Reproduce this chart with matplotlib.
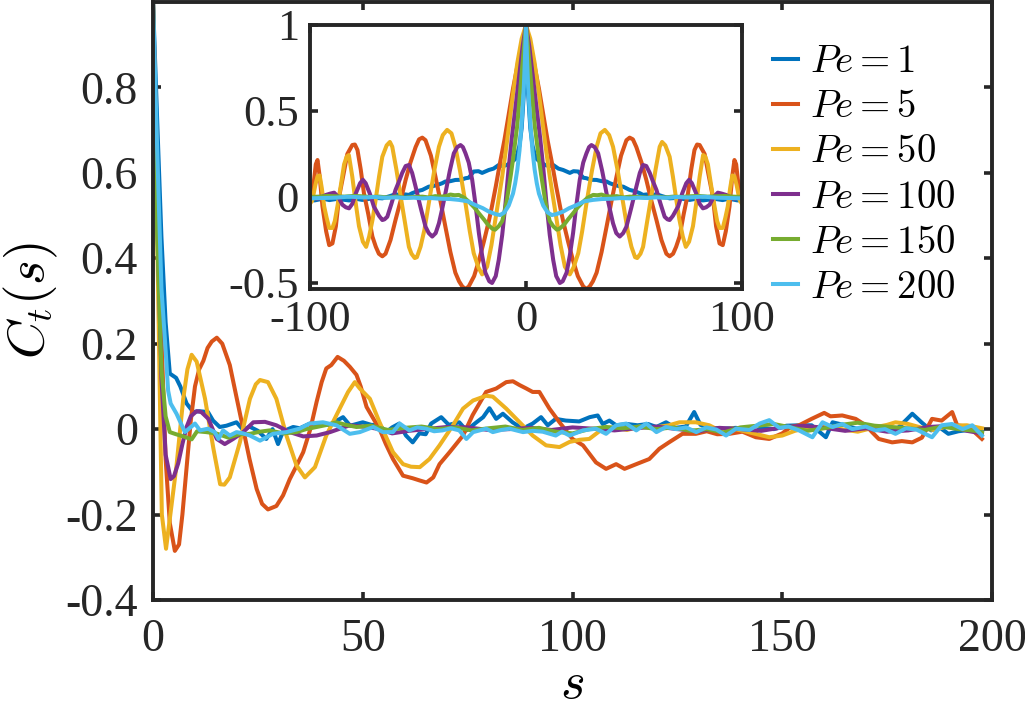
import numpy as np
import matplotlib.pyplot as plt

plt.rcParams['font.family'] = ['Liberation Serif', 'DejaVu Serif']
plt.rcParams['mathtext.fontset'] = 'cm'
plt.rcParams['axes.unicode_minus'] = False

# ---- main panel: C_t(s) for s in [0, 200], pairs (s, C) ----
main_pe1 = np.array([
    (0, 1.0), (1, 0.72), (2, 0.45), (3, 0.25), (4, 0.13), (5.5, 0.12), (6.5, 0.1), (8, 0.06),
    (9.6, 0.04), (11, 0.042), (13.1, 0.04), (14.3, 0.02), (15.9, 0.005), (17.5, 0.008),
    (19.9, 0.016), (21.5, -0.002), (23, 0.006), (25, -0.004), (27, -0.023), (28.5, 0.0),
    (29.8, -0.035), (31, -0.005), (33.4, 0.005), (35, 0.002), (37.4, 0.013), (39.5, 0.012),
    (42, 0.01), (45.3, 0.028), (47, 0.008), (50, 0.016), (52, 0.01), (54, 0.009), (55.6, -0.007),
    (57, 0.004), (58.7, 0.013), (60.3, -0.015), (61.9, -0.031), (63.5, -0.01), (65, -0.012),
    (66.3, 0.013), (68.7, 0.028), (70.5, 0.01), (73, 0.016), (74.7, -0.003), (77.1, 0.016),
    (78.7, 0.028), (80.2, 0.049), (81.8, 0.024), (83.4, 0.036), (85.7, 0.016), (88.1, 0.001),
    (90.5, 0.013), (92.5, 0.028), (94.1, 0.009), (96, 0.024), (98.4, 0.02), (101.6, 0.018),
    (104.1, 0.028), (106, 0.032), (107.2, 0.012), (108.8, 0.02), (110.4, 0.009), (113, 0.012),
    (115.5, 0.009), (118, 0.012), (120, 0.005), (122.3, 0.016), (124.5, 0.003), (127, 0.006),
    (129, 0.04), (130.5, 0.01), (133, 0.003), (136, 0.001), (139, 0.003), (142.9, -0.011),
    (145, 0.003), (148, 0.0), (151, 0.008), (154, 0.009), (157, 0.009), (160.4, -0.019),
    (162, 0.016), (165, 0.009), (168, 0.0), (171, 0.003), (174, 0.0), (177, -0.003),
    (179.8, 0.024), (181, 0.036), (183.3, 0.015), (185.5, -0.003), (187.5, 0.004),
    (189.6, -0.011), (192, -0.005), (194.5, -0.002), (197.6, -0.006)])

main_pe5 = np.array([
    (0, 1.0), (1, 0.6), (2, 0.22), (3, -0.07), (4, -0.22), (5.2, -0.285), (6.2, -0.27), (7, -0.2),
    (8, -0.09), (9, 0.02), (10, 0.1), (11, 0.14), (12, 0.16), (13, 0.19), (14, 0.205),
    (15.2, 0.214), (16.5, 0.2), (18.3, 0.15), (20, 0.07), (21.5, 0.0), (23, -0.07), (24.7, -0.14),
    (26, -0.175), (27.4, -0.188), (29.4, -0.18), (31, -0.155), (32.6, -0.117), (34, -0.09),
    (35.8, -0.054), (37.5, 0.0), (39, 0.064), (40.2, 0.11), (41.3, 0.142), (42.5, 0.15),
    (44, 0.169), (45.5, 0.16), (46.9, 0.146), (48.5, 0.127), (49.5, 0.1), (50.9, 0.052),
    (52.5, 0.025), (54, 0.0), (55.5, -0.035), (57.2, -0.07), (59.6, -0.109), (61.9, -0.115),
    (63.5, -0.12), (65.2, -0.125), (66.8, -0.113), (68.3, -0.082), (70.7, -0.054),
    (73.9, -0.015), (76.2, 0.033), (77.8, 0.06), (79.4, 0.087), (81.8, 0.095), (84.2, 0.11),
    (85.8, 0.112), (87.4, 0.103), (89, 0.095), (90.5, 0.087), (92.1, 0.087), (94.5, 0.048),
    (96.9, 0.016), (100, -0.023), (102.5, -0.038), (105.6, -0.078), (108, -0.093),
    (110.4, -0.082), (112.4, -0.093), (115.2, -0.082), (118.3, -0.07), (120.7, -0.046),
    (123, -0.031), (126.2, -0.011), (129.4, -0.011), (132, -0.005), (134.5, -0.012),
    (137.4, -0.011), (140.5, -0.006), (143.7, -0.019), (146.9, -0.023), (150, -0.01),
    (152, 0.005), (154, 0.009), (157, 0.024), (160, 0.038), (161.5, 0.03), (163, 0.031),
    (164.3, 0.032), (167.5, 0.024), (169.9, 0.009), (171.5, -0.008), (173, -0.023),
    (176.2, -0.031), (178.5, -0.028), (181, -0.031), (183.3, -0.02), (185.7, 0.024),
    (188, 0.02), (190.5, 0.04), (191.7, 0.009), (194.5, 0.005), (197.6, -0.023)])

main_pe50 = np.array([
    (0, 1.0), (1, 0.45), (2.1, -0.2), (3.1, -0.28), (4, -0.21), (5.6, -0.085), (7.2, 0.071),
    (8.2, 0.14), (9.2, 0.174), (10.4, 0.158), (12.4, 0.071), (14.4, -0.046), (16, -0.129),
    (17, -0.13), (18.3, -0.113), (20.7, -0.031), (23.1, 0.071), (24.5, 0.105), (25.5, 0.115),
    (27.4, 0.11), (29.4, 0.071), (31.8, -0.015), (34.2, -0.085), (36.2, -0.113), (38.6, -0.089),
    (41.3, -0.015), (44.5, 0.048), (46.5, 0.087), (48.1, 0.11), (49.3, 0.095), (51.7, 0.071),
    (54, 0.016), (57.2, -0.054), (59.6, -0.082), (61.5, -0.088), (63.6, -0.089), (65.9, -0.07),
    (68.3, -0.038), (71.5, 0.009), (73.9, 0.048), (76.3, 0.067), (79.4, 0.078), (81, 0.076),
    (84.2, 0.048), (87.4, 0.016), (90.5, -0.015), (93.7, -0.038), (96.9, -0.042),
    (99.3, -0.03), (101.7, -0.025), (104, -0.023), (107.2, 0.001), (110, 0.004),
    (113, -0.002), (116, 0.006), (119, 0.003), (123, 0.009), (125.5, 0.016), (129.4, 0.016),
    (132.6, 0.009), (135, -0.003), (138, 0.002), (141, -0.005), (144, -0.012),
    (146.9, -0.019), (150, -0.015), (153, -0.004), (156, 0.003), (160, 0.006), (164, 0.0),
    (168, -0.006), (172, 0.004), (175, 0.01), (177, 0.016), (180, 0.012), (183, 0.004),
    (186, -0.002), (190, 0.008), (194, 0.009), (197.6, 0.002)])

main_pe100 = np.array([
    (0, 1.0), (1, 0.5), (2, 0.12), (3, -0.06), (4.2, -0.117), (5, -0.11), (6, -0.08),
    (7, -0.035), (8, 0.005), (9, 0.03), (10.4, 0.042), (11.5, 0.04), (13.2, 0.024),
    (15.2, -0.023), (17.1, -0.035), (19.1, -0.023), (21.5, -0.007), (23.9, 0.016),
    (26.7, 0.017), (29.4, 0.009), (32.6, -0.007), (35.8, -0.017), (39, -0.015), (42.2, -0.007),
    (46.9, 0.009), (50.9, 0.005), (54, 0.0), (57, -0.01), (61, -0.004), (65, 0.0), (70, 0.005),
    (75, 0.004), (80, -0.002), (85, 0.0), (90, 0.003), (95, -0.002), (100, 0.004),
    (105, 0.001), (110, -0.003), (115, 0.002), (120, 0.006), (125, 0.0), (130, -0.005),
    (135, 0.003), (140, 0.0), (145, -0.004), (150, 0.004), (155, 0.008), (160, 0.003),
    (165, -0.004), (170, 0.002), (175, -0.006), (180, -0.003), (185, 0.005), (190, 0.008),
    (194, -0.004), (197.6, -0.01)])

main_pe150 = np.array([
    (0, 1.0), (1, 0.45), (2, 0.14), (3, 0.03), (4, -0.007), (5.5, -0.012), (7.5, -0.018),
    (9.2, -0.024), (10.5, -0.005), (12.7, -0.007), (15, -0.01), (18, -0.02), (20.5, -0.012),
    (23.1, -0.011), (25.5, -0.006), (27.8, -0.003), (31, -0.01), (34.2, -0.007), (36.5, 0.0),
    (39, 0.005), (41.5, 0.01), (43.7, 0.016), (46, 0.01), (48.5, 0.005), (52, 0.008),
    (56, -0.002), (60, 0.003), (64, 0.006), (68, 0.0), (72, 0.004), (76, -0.003), (80, 0.002),
    (84, 0.006), (88, -0.002), (92, 0.003), (96, -0.006), (100, -0.01), (104, 0.0),
    (108, 0.005), (112, 0.002), (116, 0.006), (120, 0.0), (124, 0.004), (128, -0.004),
    (132, 0.0), (136, -0.008), (140, 0.004), (144, 0.008), (148, 0.012), (152, 0.004),
    (156, -0.004), (160, 0.002), (164, 0.01), (168, 0.015), (172, 0.008), (176, 0.005),
    (180, 0.002), (184, -0.002), (188, 0.006), (192, 0.0), (196, -0.004), (197.6, -0.008)])

main_pe200 = np.array([
    (0, 1.0), (1, 0.65), (2, 0.33), (2.9, 0.2), (3.6, 0.09), (4.2, 0.06), (5.6, 0.036),
    (7.6, -0.007), (10, 0.013), (11.2, -0.003), (13.1, 0.001), (14.7, -0.007), (15.6, -0.023),
    (16.7, -0.003), (18.3, -0.015), (19.9, -0.007), (21.5, -0.01), (23.1, -0.015),
    (25.5, -0.027), (28.6, -0.011), (31.8, -0.007), (34.9, 0.001), (37.3, 0.013),
    (40.5, 0.016), (43.7, 0.009), (46.9, -0.011), (49.3, -0.007), (52.5, 0.005),
    (54.8, -0.007), (57.2, -0.007), (58.8, 0.013), (61.1, -0.003), (63, 0.004), (65.1, 0.001),
    (67, -0.005), (69, -0.003), (71, 0.002), (73, -0.003), (74.7, -0.023), (76.3, -0.007),
    (79.4, 0.001), (81, -0.007), (83, -0.002), (85, 0.001), (88.2, -0.007), (90.5, -0.004),
    (92.9, -0.006), (96, -0.015), (97.5, -0.006), (99.3, -0.015), (102.5, -0.003),
    (105.6, 0.001), (108, -0.011), (110.4, 0.009), (112.8, 0.013), (115.2, -0.003),
    (117.6, 0.013), (120, -0.007), (122.3, 0.005), (124.7, 0.0), (127.1, 0.004),
    (129.5, -0.007), (131.9, 0.004), (134.3, -0.001), (136.6, -0.015), (139, 0.001),
    (142.2, -0.002), (144.6, 0.013), (146.9, 0.021), (149.3, 0.003), (151.5, 0.006),
    (154, -0.003), (157.2, -0.019), (159.6, 0.016), (162, 0.005), (164.3, 0.012),
    (166.7, 0.0), (169.9, 0.006), (172.2, -0.003), (174.5, 0.0), (177, -0.011),
    (179.5, 0.002), (182, -0.001), (185.7, -0.019), (188, 0.009), (190.5, 0.012), (193, 0.0),
    (195.3, 0.009), (197.6, -0.015)])

# ---- inset: symmetric correlation, right half (s >= 0) ----
inset_pe1 = np.array([
    (0, 1.0), (1, 0.6), (2, 0.4), (3, 0.3), (4, 0.25), (5, 0.22), (7, 0.2), (9, 0.185),
    (11.1, 0.18), (12.6, 0.186), (15, 0.165), (17.2, 0.157), (20.3, 0.14), (22, 0.15),
    (24.2, 0.148), (26.5, 0.112), (28, 0.109), (30, 0.1), (32.7, 0.099), (35, 0.092),
    (37.3, 0.09), (38.8, 0.08), (41, 0.07), (43.4, 0.062), (45, 0.06), (48, 0.041), (50, 0.035),
    (52.7, 0.022), (54.2, 0.012), (56, 0.015), (58.8, 0.012), (60.4, 0.016), (63, 0.005),
    (66.5, -0.008), (70, -0.005), (73, -0.012), (75.8, -0.017), (78, -0.012), (81.9, -0.02),
    (85, -0.015), (88, -0.012), (91, -0.018), (94, -0.01), (97.9, -0.02), (100, -0.015)])

inset_pe5 = np.array([
    (0, 1.0), (2, 0.88), (4, 0.76), (6, 0.63), (8, 0.48), (10, 0.33), (12, 0.2), (14, 0.06),
    (16, -0.07), (17.2, -0.14), (19.5, -0.26), (21.8, -0.37), (24, -0.46), (26.5, -0.52),
    (28, -0.535), (29.5, -0.52), (31, -0.49), (32.7, -0.44), (35, -0.32), (37.3, -0.173),
    (39.5, -0.03), (41.9, 0.118), (44, 0.24), (46.5, 0.33), (48, 0.345), (49.5, 0.335),
    (51.1, 0.29), (53.5, 0.2), (55.7, 0.1), (58, -0.02), (60.4, -0.134), (62.7, -0.25),
    (65, -0.33), (66.5, -0.345), (68.1, -0.33), (69.5, -0.29), (71.1, -0.23), (73, -0.1),
    (75, 0.021), (76.5, 0.16), (78, 0.273), (79.2, 0.305), (80.4, 0.302), (82.7, 0.25),
    (84.5, 0.13), (86.5, 0.002), (88, -0.17), (89.6, -0.27), (91.1, -0.28), (92.5, -0.2),
    (94.2, -0.056), (95.5, 0.12), (96.5, 0.215), (97.3, 0.19), (98.1, 0.1), (99.6, 0.02),
    (100, 0.0)])

inset_pe50 = np.array([
    (0, 1.0), (2, 0.92), (4, 0.78), (6, 0.6), (8, 0.4), (9.5, 0.254), (11, 0.12), (12.5, 0.0),
    (14.2, -0.134), (16, -0.28), (18, -0.405), (20.3, -0.45), (22, -0.41), (24.2, -0.327),
    (26, -0.2), (28, -0.037), (30.5, 0.15), (32.7, 0.292), (34.5, 0.37), (36.5, 0.39),
    (38.5, 0.36), (40.3, 0.292), (42.5, 0.15), (45, -0.037), (47, -0.19), (48.8, -0.289),
    (50.5, -0.35), (51.5, -0.355), (53, -0.33), (54.2, -0.29), (56, -0.15), (58, 0.002),
    (60, 0.16), (61.9, 0.292), (63, 0.32), (64.5, 0.3), (66.5, 0.234), (68, 0.12),
    (69.6, -0.017), (71, -0.13), (72.6, -0.23), (74, -0.29), (75.5, -0.26), (77.3, -0.17),
    (79, -0.02), (80.4, 0.118), (82, 0.244), (83, 0.235), (84.2, 0.19), (85.8, 0.06),
    (87.3, -0.056), (88.5, -0.14), (89.6, -0.18), (91.1, -0.18), (92.3, -0.12),
    (93.4, -0.056), (94.5, 0.05), (95.5, 0.125), (96.5, 0.12), (97.5, 0.07), (98.9, -0.02),
    (100, -0.04)])

inset_pe100 = np.array([
    (0, 1.0), (1.5, 0.88), (3, 0.72), (4.5, 0.56), (6.5, 0.35), (8, 0.17), (9.5, -0.04),
    (11, -0.22), (12.6, -0.366), (14, -0.46), (15.7, -0.5), (17, -0.49), (18.8, -0.44),
    (20.3, -0.34), (21.8, -0.21), (23.3, -0.05), (24.9, 0.1), (26.5, 0.2), (28, 0.254),
    (29.2, 0.29), (30.3, 0.302), (31.8, 0.29), (33.4, 0.254), (35.3, 0.15), (37.3, 0.021),
    (38.8, -0.07), (40.3, -0.153), (41.8, -0.21), (43.4, -0.23), (45, -0.21), (46.5, -0.173),
    (48.8, -0.06), (51.1, 0.06), (52.7, 0.14), (54.2, 0.186), (55.7, 0.18), (57.3, 0.14),
    (58.8, 0.09), (60.4, 0.041), (62.3, -0.04), (64.2, -0.115), (65.5, -0.13),
    (66.5, -0.134), (68, -0.11), (70.4, -0.056), (72.3, 0.02), (74.2, 0.08), (75.5, 0.1),
    (76.8, 0.08), (78.8, 0.02), (80.4, -0.04), (81.9, -0.066), (83.4, -0.06), (85, -0.045),
    (86.9, 0.0), (88.8, 0.025), (90.5, 0.02), (92.6, 0.012), (94.5, 0.0), (96.5, -0.01),
    (98, -0.005), (100, 0.005)])

inset_pe150 = np.array([
    (0, 1.0), (1, 0.86), (2, 0.72), (3, 0.57), (4, 0.42), (5, 0.32), (6, 0.22), (7, 0.13),
    (8, 0.05), (9, -0.03), (10, -0.09), (11, -0.14), (12.6, -0.17), (14.3, -0.19),
    (15.5, -0.185), (17.7, -0.16), (19.5, -0.13), (21.8, -0.095), (24, -0.06), (26.5, -0.027),
    (28.5, -0.005), (31.1, 0.012), (33, 0.01), (35, 0.014), (37, 0.005), (39.4, 0.002),
    (42, 0.005), (45, -0.003), (48, 0.002), (52, 0.0), (56, -0.004), (60, 0.003),
    (64, -0.003), (68, 0.002), (72, 0.0), (76, 0.004), (80, 0.006), (84, 0.002), (88, 0.004),
    (92, 0.006), (96, 0.002), (100, 0.0)])

inset_pe200 = np.array([
    (0, 1.0), (0.5, 0.8), (1, 0.64), (2, 0.43), (3, 0.27), (4, 0.16), (5, 0.08), (6, 0.02),
    (8, -0.05), (10, -0.09), (12, -0.105), (14, -0.1), (17.2, -0.085), (20, -0.065),
    (23.4, -0.047), (27, -0.025), (31, -0.017), (35, -0.012), (40, -0.01), (44, -0.006),
    (48, -0.008), (52, -0.004), (56, -0.006), (60, -0.002), (65, -0.005), (70, 0.0),
    (75, -0.003), (82, 0.002), (88, -0.004), (94, -0.006), (100, -0.008)])

pe_labels = [r'$Pe=1$', r'$Pe=5$', r'$Pe=50$', r'$Pe=100$', r'$Pe=150$', r'$Pe=200$']
colors = ['#0072BD', '#D95319', '#EDB120', '#7E2F8E', '#77AC30', '#4DBEEE']
main_series = [main_pe1, main_pe5, main_pe50, main_pe100, main_pe150, main_pe200]
inset_series = [inset_pe1, inset_pe5, inset_pe50, inset_pe100, inset_pe150, inset_pe200]

axis_color = '#262626'
LW = 2.9


def style_axes(a, size, xpad, ypad):
    for sp in a.spines.values():
        sp.set_linewidth(2.8)
        sp.set_color(axis_color)
    a.tick_params(direction='in', length=6, width=2.6, top=True, right=True,
                  labelsize=size, colors=axis_color)
    a.tick_params(axis='x', pad=xpad)
    a.tick_params(axis='y', pad=ypad)


fig = plt.figure(figsize=(10.25, 7.12), dpi=100)

ax = fig.add_axes([0.1493, 0.1573, 0.8185, 0.840])
lines = []
for d, c, lab in zip(main_series, colors, pe_labels):
    ln, = ax.plot(d[:, 0], d[:, 1], color=c, lw=LW, label=lab)
    lines.append(ln)
ax.set_xlim(0, 200)
ax.set_ylim(-0.4, 1.0)
ax.set_xticks([0, 50, 100, 150, 200])
ax.set_xticklabels(['0', '50', '100', '150', '200'])
ax.set_yticks([-0.4, -0.2, 0, 0.2, 0.4, 0.6, 0.8])
ax.set_yticklabels(['-0.4', '-0.2', '0', '0.2', '0.4', '0.6', '0.8'])
style_axes(ax, 33, 13, 11)
ax.set_xlabel(r'$s$', fontsize=38, labelpad=0)
ax.set_ylabel(r'$C_t(s)$', fontsize=38, labelpad=4)

# inset
axin = fig.add_axes([0.3024, 0.5941, 0.4215, 0.3708])
axin.set_facecolor('white')
for d, c in zip(inset_series, colors):
    s_full = np.concatenate([-d[::-1, 0], d[1:, 0]])
    c_full = np.concatenate([d[::-1, 1], d[1:, 1]])
    axin.plot(s_full, c_full, color=c, lw=LW)
axin.set_xlim(-100, 100)
axin.set_ylim(-0.535, 1.0)
axin.set_xticks([-100, 0, 100])
axin.set_xticklabels(['-100', '0', '100'])
axin.set_yticks([-0.5, 0, 0.5, 1])
axin.set_yticklabels(['-0.5', '0', '0.5', '1'])
style_axes(axin, 32, 8, 8)

fig.legend(handles=lines, loc='upper left', bbox_to_anchor=(0.754, 0.938),
           frameon=False, fontsize=28, handlelength=0.65, handletextpad=0.3,
           labelspacing=0.21, borderpad=0, borderaxespad=0)

fig.savefig('out.png', dpi=100)
